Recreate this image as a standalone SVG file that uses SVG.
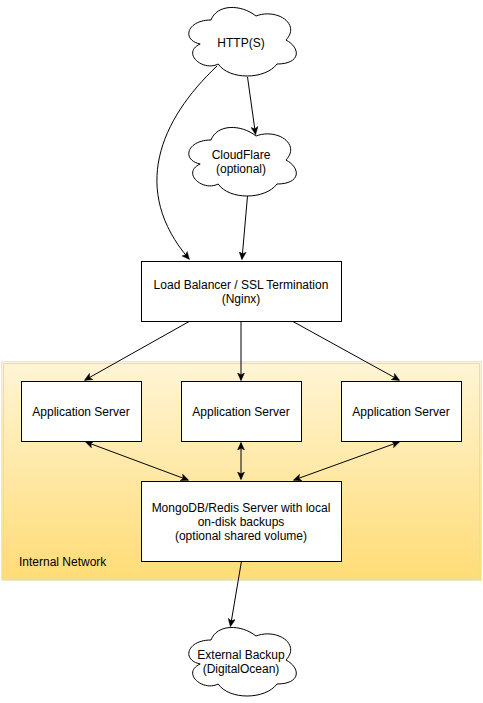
<svg xmlns="http://www.w3.org/2000/svg" width="483" height="703" viewBox="0 0 483 703">
<style>
.box{fill:#fff;stroke:#000;stroke-width:1}
.cloud{fill:#fff;stroke:#000;stroke-width:1}
.t{font-family:"Liberation Sans",Arial,sans-serif;font-size:12px;fill:#000;text-anchor:middle}
.e{fill:none;stroke:#000;stroke-width:1}
</style>
<defs>
<linearGradient id="g" x1="0" y1="0" x2="0" y2="1">
<stop offset="0" stop-color="#fff5d6"/>
<stop offset="1" stop-color="#ffdc76"/>
</linearGradient>
<marker id="a" viewBox="0 0 10 10" refX="9" refY="5" markerWidth="8" markerHeight="8" orient="auto" markerUnits="userSpaceOnUse">
<path d="M0,0.5 L10,5 L0,9.5 L2.5,5 Z" fill="#000" stroke="#000" stroke-width="0.5"/>
</marker>
<marker id="s" viewBox="0 0 10 10" refX="1" refY="5" markerWidth="8" markerHeight="8" orient="auto" markerUnits="userSpaceOnUse">
<path d="M10,0.5 L0,5 L10,9.5 L7.5,5 Z" fill="#000" stroke="#000" stroke-width="0.5"/>
</marker>
<path id="cl" d="M30,20 C6,20 0,40 19.2,44 C0,52.8 21.6,72 37.2,64 C48,80 84,80 96,64 C120,64 120,48 105,40 C120,24 96,8 75,16 C60,4 36,4 30,20 Z"/>
</defs>
<g id="internal-network">
<rect x="1.5" y="361.5" width="480" height="219" fill="url(#g)" stroke="#f3e7bb"/>
<rect x="3.5" y="363.5" width="476" height="215" fill="none" stroke="#eddc9e"/>
<text x="19" y="566" class="t" style="text-anchor:start">Internal Network</text>
</g>
<g id="connectors">
<path class="e" d="M247.5,77 L255.5,134" marker-end="url(#a)"/>
<path class="e" d="M217,66 C160,120 130,190 189,259" marker-end="url(#a)"/>
<path class="e" d="M247.5,196 L242,259" marker-end="url(#a)"/>
<path class="e" d="M190,321 L85,380" marker-end="url(#a)"/>
<path class="e" d="M241,321 L241,380" marker-end="url(#a)"/>
<path class="e" d="M292,321 L399,380" marker-end="url(#a)"/>
<path class="e" d="M86,442 L188,480" marker-start="url(#s)" marker-end="url(#a)"/>
<path class="e" d="M241,443 L241,479" marker-start="url(#s)" marker-end="url(#a)"/>
<path class="e" d="M399,442 L294,480" marker-start="url(#s)" marker-end="url(#a)"/>
<path class="e" d="M241.5,561 L230.5,626" marker-end="url(#a)"/>
</g>
<g id="http">
<use href="#cl" x="181" y="0" class="cloud"/>
<text x="241" y="47" class="t">HTTP(S)</text>
</g>
<g id="cloudflare">
<use href="#cl" x="181" y="120" class="cloud"/>
<text x="241" y="159" class="t">CloudFlare</text>
<text x="241" y="173" class="t">(optional)</text>
</g>
<g id="load-balancer">
<rect class="box" x="141.5" y="261.5" width="200" height="60"/>
<text x="241" y="289" class="t">Load Balancer / SSL Termination</text>
<text x="241" y="303" class="t">(Nginx)</text>
</g>
<g id="app1">
<rect class="box" x="21.5" y="381.5" width="120" height="60"/>
<text x="81" y="416" class="t">Application Server</text>
</g>
<g id="app2">
<rect class="box" x="181.5" y="381.5" width="120" height="60"/>
<text x="241" y="416" class="t">Application Server</text>
</g>
<g id="app3">
<rect class="box" x="341.5" y="381.5" width="120" height="60"/>
<text x="401" y="416" class="t">Application Server</text>
</g>
<g id="db">
<rect class="box" x="141.5" y="481.5" width="200" height="80"/>
<text x="241" y="512" class="t">MongoDB/Redis Server with local</text>
<text x="241" y="526" class="t">on-disk backups</text>
<text x="241" y="540" class="t">(optional shared volume)</text>
</g>
<g id="external-backup">
<use href="#cl" x="181" y="620" class="cloud"/>
<text x="241" y="659" class="t">External Backup</text>
<text x="241" y="673" class="t">(DigitalOcean)</text>
</g>
</svg>
